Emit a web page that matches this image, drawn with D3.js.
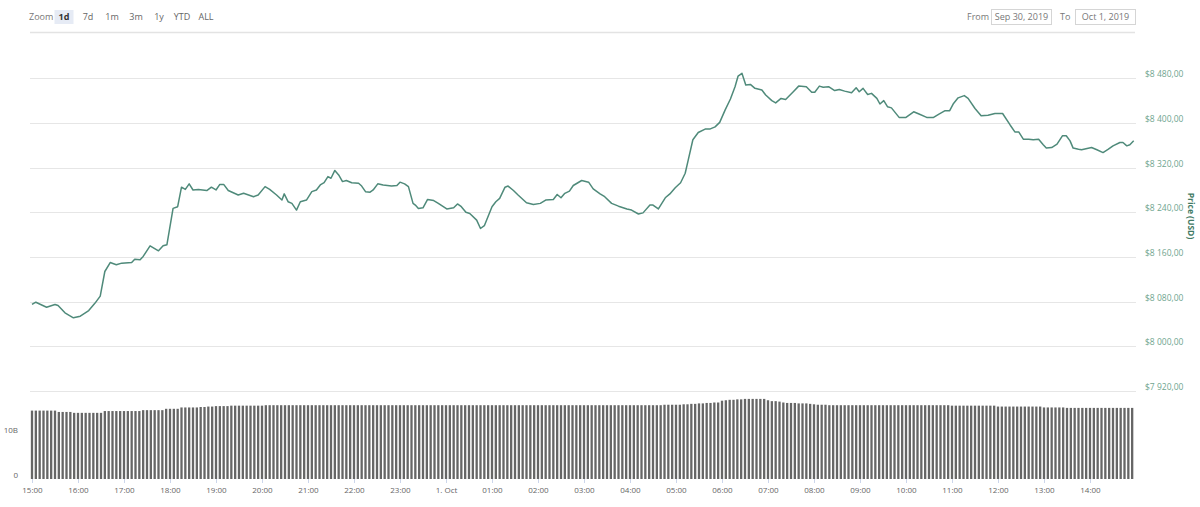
<!DOCTYPE html>
<html>
<head>
<meta charset="utf-8">
<script src="https://cdn.jsdelivr.net/npm/d3@7"></script>
<style>
  html, body { margin: 0; padding: 0; background: #fff; }
  svg { display: block; font-family: "Open Sans", "Lato", sans-serif; }
</style>
</head>
<body>
<svg id="chart" width="1200" height="507"></svg>
<script>
// ---------- DATA ----------
// minutes after 30 Sep 2019 15:00 (UTC display)
const priceMinutes = [0,5,19,30,34,43,54,63,74,82,89,95,102,110,117,130,134,141,145,154,165,171,176,184,190,195,200,205,210,217,228,234,240,245,250,256,269,276,289,295,304,310,319,326,329,334,339,345,350,358,365,371,376,381,386,390,395,400,405,410,417,426,430,435,441,445,451,458,469,476,480,486,491,497,500,504,510,516,524,530,541,550,555,560,566,571,580,585,590,600,605,610,617,621,628,634,645,654,663,670,680,685,690,695,701,706,717,726,732,741,747,756,765,776,782,791,797,806,810,817,826,832,839,846,852,856,862,869,878,884,891,897,904,911,917,921,926,931,937,943,952,957,965,970,977,983,993,1000,1010,1017,1021,1027,1032,1039,1047,1053,1060,1069,1075,1079,1084,1090,1095,1102,1106,1111,1116,1121,1131,1140,1150,1157,1167,1176,1183,1191,1197,1202,1208,1216,1221,1230,1238,1247,1256,1266,1276,1282,1287,1293,1300,1306,1313,1319,1323,1330,1337,1344,1349,1354,1358,1365,1369,1382,1389,1397,1404,1410,1419,1423,1428,1432,1437];
const priceValues = [8075,8079,8070,8075,8073,8060,8051,8054,8064,8077,8090,8134,8150,8146,8149,8150,8156,8155,8161,8180,8171,8180,8182,8247,8250,8285,8281,8291,8280,8281,8279,8285,8280,8290,8290,8279,8271,8274,8268,8271,8286,8281,8271,8262,8273,8259,8256,8244,8259,8262,8277,8280,8289,8293,8304,8301,8315,8307,8295,8297,8293,8292,8287,8277,8276,8280,8291,8289,8287,8288,8294,8291,8286,8256,8253,8247,8248,8263,8261,8256,8246,8248,8255,8250,8240,8238,8226,8211,8216,8250,8259,8265,8285,8287,8279,8271,8257,8254,8256,8262,8263,8272,8266,8274,8278,8288,8297,8294,8282,8273,8268,8256,8251,8246,8244,8237,8239,8253,8253,8246,8266,8273,8284,8293,8310,8334,8370,8383,8389,8389,8393,8401,8423,8443,8465,8484,8489,8468,8469,8462,8459,8450,8440,8436,8444,8442,8456,8466,8465,8455,8455,8466,8464,8465,8458,8460,8457,8454,8463,8456,8462,8451,8453,8444,8434,8440,8429,8427,8410,8410,8420,8416,8410,8410,8416,8422,8422,8435,8445,8449,8444,8426,8413,8414,8417,8417,8396,8384,8384,8371,8371,8370,8371,8361,8355,8356,8362,8377,8377,8368,8355,8353,8352,8356,8352,8347,8353,8359,8365,8365,8359,8361,8368];

// 24h volume in billions USD, one bar every 5 minutes from 15:00 (rows = hours)
const volumeB = [
  15.2,15.2,15.2,15.2,15.2,15.2,15.2,14.9,14.9,14.9,14.9,14.7, // 15
  14.7,14.7,14.7,14.7,14.7,14.7,14.7,15.1,15.1,15.1,15.1,15.1, // 16
  15.1,15.1,15.1,15.1,15.1,15.3,15.3,15.3,15.3,15.3,15.3,15.6, // 17
  15.6,15.6,15.6,15.9,15.9,15.9,15.9,15.9,16.0,16.0,16.1,16.1, // 18
  16.2,16.2,16.2,16.2,16.3,16.3,16.3,16.3,16.3,16.3,16.3,16.3, // 19
  16.3,16.4,16.4,16.4,16.4,16.4,16.4,16.4,16.4,16.4,16.4,16.4, // 20
  16.4,16.4,16.4,16.4,16.4,16.4,16.4,16.4,16.4,16.4,16.4,16.4, // 21
  16.4,16.4,16.4,16.4,16.4,16.4,16.4,16.4,16.4,16.4,16.4,16.4, // 22
  16.4,16.4,16.4,16.4,16.4,16.4,16.4,16.4,16.4,16.4,16.4,16.4, // 23
  16.4,16.4,16.4,16.4,16.4,16.4,16.4,16.4,16.4,16.4,16.4,16.4, // 00
  16.4,16.4,16.4,16.4,16.4,16.4,16.4,16.4,16.4,16.4,16.4,16.4, // 01
  16.4,16.4,16.4,16.4,16.4,16.4,16.4,16.4,16.4,16.4,16.4,16.4, // 02
  16.4,16.4,16.4,16.4,16.4,16.4,16.4,16.4,16.4,16.4,16.4,16.4, // 03
  16.4,16.4,16.4,16.4,16.4,16.4,16.4,16.4,16.4,16.5,16.5,16.5, // 04
  16.5,16.5,16.6,16.6,16.7,16.7,16.8,16.8,16.9,16.9,17.0,17.0, // 05
  17.4,17.5,17.6,17.6,17.7,17.7,17.8,17.8,17.8,17.8,17.8,17.8, // 06
  17.5,17.3,17.3,17.2,17.0,16.9,16.9,16.9,16.8,16.8,16.8,16.7, // 07
  16.6,16.5,16.5,16.5,16.4,16.4,16.4,16.4,16.4,16.4,16.4,16.4, // 08
  16.4,16.4,16.4,16.4,16.4,16.4,16.4,16.4,16.4,16.4,16.4,16.4, // 09
  16.4,16.4,16.4,16.4,16.4,16.4,16.4,16.4,16.4,16.4,16.4,16.4, // 10
  16.3,16.3,16.3,16.3,16.3,16.3,16.3,16.3,16.3,16.3,16.3,16.3, // 11
  16.1,16.1,16.1,16.1,16.1,16.1,16.1,16.1,16.1,16.1,16.1,16.1, // 12
  15.9,15.9,15.9,15.9,15.9,15.9,15.8,15.8,15.8,15.8,15.8,15.8, // 13
  15.8,15.8,15.8,15.8,15.8,15.8,15.8,15.8,15.8,15.8,15.8,15.8  // 14
];

const priceTicks = [7920, 8000, 8080, 8160, 8240, 8320, 8400, 8480];
const volumeTicks = [0, 10];
const zoomButtons = ["1d", "7d", "1m", "3m", "1y", "YTD", "ALL"];
const selectedButton = "1d";
const fromDate = "Sep 30, 2019";
const toDate = "Oct 1, 2019";
const priceAxisTitle = "Price (USD)";

// ---------- CHART ----------
const svg = d3.select("#chart");
const start = Date.UTC(2019, 8, 30, 15, 0);
const minute = 60000;

const x = d3.scaleUtc()
  .domain([new Date(start), new Date(start + 24 * 60 * minute)])
  .range([32, 1136]);
const y = d3.scaleLinear().domain([7920, 8480]).range([391, 78.3]);
const yv = d3.scaleLinear().domain([0, 20]).range([479, 389]);

const gridL = 30, gridR = 1136;

// top separator
svg.append("line").attr("x1", gridL).attr("x2", 1135).attr("y1", 32.5).attr("y2", 32.5)
  .attr("stroke", "#e3e3e3").attr("stroke-width", 1.5);

// range selector
svg.append("text").attr("x", 29).attr("y", 20).attr("font-size", 9).attr("fill", "#777").text("Zoom");
const btnCenters = [64, 88, 112, 136, 159, 182, 206];
zoomButtons.forEach((b, i) => {
  const sel = b === selectedButton;
  if (sel) {
    svg.append("rect").attr("x", btnCenters[i] - 9.5).attr("y", 10).attr("width", 19).attr("height", 14)
      .attr("fill", "#e6ebf5");
  }
  svg.append("text").attr("x", btnCenters[i]).attr("y", 20).attr("text-anchor", "middle")
    .attr("font-size", 9).attr("font-weight", sel ? "bold" : "normal")
    .attr("fill", sel ? "#333" : "#666").text(b);
});

// date inputs
svg.append("text").attr("x", 967).attr("y", 20).attr("font-size", 9).attr("fill", "#777").text("From");
svg.append("rect").attr("x", 991.5).attr("y", 9.5).attr("width", 60).attr("height", 15)
  .attr("fill", "#fff").attr("stroke", "#d5d5d5");
svg.append("text").attr("x", 1021.5).attr("y", 20).attr("text-anchor", "middle").attr("font-size", 9)
  .attr("fill", "#777").text(fromDate);
svg.append("text").attr("x", 1060).attr("y", 20).attr("font-size", 9).attr("fill", "#777").text("To");
svg.append("rect").attr("x", 1075.5).attr("y", 9.5).attr("width", 60).attr("height", 15)
  .attr("fill", "#fff").attr("stroke", "#d5d5d5");
svg.append("text").attr("x", 1105.5).attr("y", 20).attr("text-anchor", "middle").attr("font-size", 9)
  .attr("fill", "#777").text(toDate);

// price gridlines
svg.append("g").selectAll("line").data(priceTicks).join("line")
  .attr("x1", gridL).attr("x2", gridR)
  .attr("y1", d => Math.round(y(d)) + 0.5).attr("y2", d => Math.round(y(d)) + 0.5)
  .attr("stroke", "#e6e6e6").attr("stroke-width", 1);

// price axis labels
const fmtPrice = v => {
  const s = d3.format(",.2f")(v);
  return "$" + s.replace(/,/g, " ").replace(".", ",");
};
svg.append("g").selectAll("text").data(priceTicks).join("text")
  .attr("x", 1145).attr("y", d => y(d) - 1)
  .attr("font-size", 8.5).attr("fill", "#6fa58f").text(fmtPrice);

svg.append("text")
  .attr("transform", "translate(1188,216) rotate(90)")
  .attr("text-anchor", "middle").attr("font-size", 8.5).attr("font-weight", "bold")
  .attr("fill", "#3f7a64").text(priceAxisTitle);

// volume bars
const barW = 2.3;
svg.append("g").selectAll("rect").data(volumeB).join("rect")
  .attr("x", (d, i) => x(new Date(start + i * 5 * minute)) - barW / 2)
  .attr("y", d => yv(d))
  .attr("width", barW)
  .attr("height", d => yv(0) - yv(d))
  .attr("fill", "#666");

// volume axis labels
svg.append("g").selectAll("text").data(volumeTicks).join("text")
  .attr("x", 18).attr("y", d => yv(d) - 1)
  .attr("text-anchor", "end").attr("font-size", 8).attr("fill", "#666")
  .text(d => d === 0 ? "0" : d + "B");

// price line
const priceData = priceMinutes.map((m, i) => ({ t: new Date(start + m * minute), p: priceValues[i] }));
svg.append("path").datum(priceData)
  .attr("fill", "none").attr("stroke", "#4f8a7a").attr("stroke-width", 1.5)
  .attr("stroke-linejoin", "round")
  .attr("d", d3.line().x(d => x(d.t)).y(d => y(d.p)));

// x axis
const hourTicks = d3.utcHour.range(new Date(start), new Date(start + 24 * 60 * minute));
const fmtHour = d => d.getUTCHours() === 0 ? "1. Oct" : d3.utcFormat("%H:%M")(d);
const xAxis = d3.axisBottom(x).tickValues(hourTicks).tickFormat(fmtHour).tickSize(4).tickPadding(4);
const gx = svg.append("g").attr("transform", "translate(0,479)").call(xAxis);
gx.select(".domain").remove();
gx.selectAll(".tick line").attr("stroke", "#ccd6eb");
gx.selectAll(".tick text").attr("font-size", 8).attr("fill", "#666")
  .attr("font-family", "'Open Sans', sans-serif");
</script>
</body>
</html>
